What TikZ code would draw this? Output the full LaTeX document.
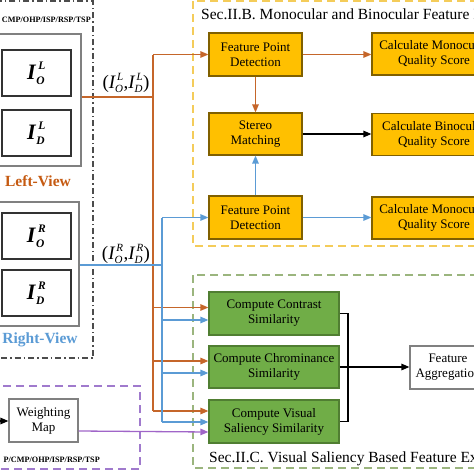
\documentclass[tikz,border=0pt]{standalone}
\usepackage{amsmath}
\usepackage{fontspec}
\setmainfont{Liberation Serif}
\usetikzlibrary{arrows.meta,calc}
\DeclareMathSizes{22}{22}{11.5}{9}
\DeclareMathSizes{19}{19}{11}{8}
\definecolor{oline}{HTML}{C5662A}
\definecolor{otext}{HTML}{C55A11}
\definecolor{bline}{HTML}{5B9BD5}
\definecolor{pline}{HTML}{A065C8}
\definecolor{yfill}{HTML}{FFC000}
\definecolor{ybord}{HTML}{806000}
\definecolor{gfill}{HTML}{70AD47}
\definecolor{gbord}{HTML}{507E32}
\definecolor{ydash}{HTML}{F4CC5A}
\definecolor{gdash}{HTML}{9BB57E}
\definecolor{pdash}{HTML}{A07ACD}
\definecolor{frame}{HTML}{808080}
\newcommand{\bI}[2]{$\textbf{\textit{I}}_{\textbf{\textit{#1}}}^{\,\textbf{\textit{#2}}}$}
\newcommand{\pI}[2]{$\textit{I}_{\textit{#1}}^{\,\textit{#2}}$}
\begin{document}
\begin{tikzpicture}[x=1pt,y=-1pt,
  every node/.style={inner sep=1pt},
  arr/.style={-{Triangle[length=8pt,width=6.5pt]}},
  conn/.style={line width=1.3pt},
  olink/.style={conn,color=oline},
  blink/.style={conn,color=bline},
  plink/.style={conn,color=pline},
  klink/.style={conn,color=black},
  ybox/.style={draw=ybord,fill=yfill,line width=1.2pt,minimum height=43pt,align=center,font=\fontsize{13}{15}\selectfont},
  gbox/.style={draw=gbord,fill=gfill,line width=1.2pt,minimum width=130pt,minimum height=43pt,align=center,font=\fontsize{13}{15}\selectfont},
  wbox/.style={draw=frame,fill=white,line width=1.2pt,minimum height=43pt,align=center,font=\fontsize{13}{15}\selectfont},
  ibox/.style={draw=black!80,fill=white,line width=1.5pt,minimum width=69pt,minimum height=46pt,font=\fontsize{22}{22}\selectfont},
  gframe/.style={draw=frame,line width=1.2pt},
  grp/.style={line width=1.5pt,dash pattern=on 8pt off 5pt},
  title/.style={font=\fontsize{15.5}{18}\selectfont,anchor=west},
  dbtext/.style={font=\bfseries\fontsize{8.2}{10}\selectfont,anchor=east}
]
\useasboundingbox (0,0) rectangle (474,474);
\clip (0,0) rectangle (474,474);

% group frames
\draw[line width=1.2pt,draw=black!70,dash pattern=on 6pt off 3pt on 1.5pt off 3pt] (-20,1) rectangle (93,358);
\draw[grp,draw=pdash] (-20,386) rectangle (140,469);
\draw[grp,draw=ydash] (193,1) rectangle (500,246);
\draw[grp,draw=gdash] (193,275) rectangle (500,468);

\node[dbtext] (dbL) at (92,20) {CMP/OHP/ISP/RSP/TSP};
\node[dbtext] (dbW) at (101,460) {P/CMP/OHP/ISP/RSP/TSP};
\node[title] (tB) at (200,14) {Sec.II.B. Monocular and Binocular Feature Extraction};
\node[title] (tC) at (208,459) {Sec.II.C. Visual Saliency Based Feature Extraction};

% left / right view frames
\node[gframe,minimum width=101pt,minimum height=132pt] (fL) at (30.5,100) {};
\node[gframe,minimum width=99pt,minimum height=124pt] (fR) at (29.5,264) {};
\node[ibox] (IOL) at (36.5,73) {\bI{O}{L}};
\node[ibox] (IDL) at (36.5,133) {\bI{D}{L}};
\node[ibox] (IOR) at (36.5,236) {\bI{O}{R}};
\node[ibox] (IDR) at (36.5,293) {\bI{D}{R}};
\node[font=\bfseries\fontsize{15.5}{18}\selectfont,text=otext] (lv) at (38,181) {Left-View};
\node[font=\bfseries\fontsize{15.5}{18}\selectfont,text=bline] (rv) at (40,340) {Right-View};

% weighting map
\node[wbox,minimum width=69pt] (wm) at (43.5,420.5) {Weighting\\Map};
\coordinate (wmin) at (-5,421);

% yellow boxes
\node[ybox,minimum width=93pt] (fpd1) at (255.5,54.5) {Feature Point\\Detection};
\node[ybox,minimum width=93pt,minimum height=42pt] (sm) at (255.5,134) {Stereo\\Matching};
\node[ybox,minimum width=93pt] (fpd2) at (255.5,217.5) {Feature Point\\Detection};
\node[ybox,minimum width=124pt,minimum height=42pt] (cm1) at (434,54) {Calculate Monocular\\Quality Score};
\node[ybox,minimum width=124pt,minimum height=42pt] (cb) at (434,134.5) {Calculate Binocular\\Quality Score};
\node[ybox,minimum width=124pt,minimum height=42pt] (cm2) at (434,218) {Calculate Monocular\\Quality Score};

% green boxes
\node[gbox] (con) at (274,313.5) {Compute Contrast\\Similarity};
\node[gbox,minimum height=42pt] (chr) at (274,367) {Compute Chrominance\\Similarity};
\node[gbox] (vis) at (274,421.5) {Compute Visual\\Saliency Similarity};
\node[wbox,minimum width=76pt] (fa) at (448,367.5) {Feature\\Aggregation};

% bus coordinates
\coordinate (jL) at (153,97);
\coordinate (jR) at (162,265);
\coordinate (oT) at (153,54.5);
\coordinate (oB) at (153,411);
\coordinate (bT) at (162,217.5);
\coordinate (bB) at (162,422);

\node[font=\fontsize{19}{19}\selectfont] (labL) at (126,83) {(\pI{O}{L},\pI{D}{L})};
\node[font=\fontsize{19}{19}\selectfont] (labR) at (126,254) {(\pI{O}{R},\pI{D}{R})};

% orange bus
\draw[olink] (fL.east |- jL) -- (jL);
\draw[olink] (oT) -- (oB);
\draw[olink,arr] (oT) -- (fpd1.west);
\draw[olink,arr] (oT |- {$(con.west)+(0,-6)$}) -- ($(con.west)+(0,-6)$);
\draw[olink,arr] (oT |- {$(chr.west)+(0,-6)$}) -- ($(chr.west)+(0,-6)$);
\draw[olink,arr] (oB) -- ($(vis.west)+(0,-10.5)$);
\draw[olink,arr] (fpd1.east) -- (cm1.west |- fpd1.east);
\draw[olink,arr] (fpd1.south) -- (sm.north);

% blue bus
\draw[blink] (fR.east |- jR) -- (jR);
\draw[blink] (bT) -- (bB);
\draw[blink,arr] (bT) -- (fpd2.west);
\draw[blink,arr] (bT |- {$(con.west)+(0,6.5)$}) -- ($(con.west)+(0,6.5)$);
\draw[blink,arr] (bT |- {$(chr.west)+(0,6)$}) -- ($(chr.west)+(0,6)$);
\draw[blink,arr] (bB) -- (vis.west |- bB);
\draw[blink,arr] (fpd2.east) -- (cm2.west |- fpd2.east);
\draw[blink,arr] (fpd2.north) -- (sm.south);

% black
\draw[klink,arr] (sm.east) -- (cb.west |- sm.east);
\draw[klink] (con.east) -| (348,367) |- (vis.east);
\draw[klink,arr] (chr.east) -- (fa.west |- chr.east);
\draw[klink,arr] (wmin) -- (wm.west |- wmin);

% purple
\draw[plink,arr] ($(wm.east)+(0,10.5)$) -- ($(vis.west)+(0,10.5)$);
\end{tikzpicture}
\end{document}
